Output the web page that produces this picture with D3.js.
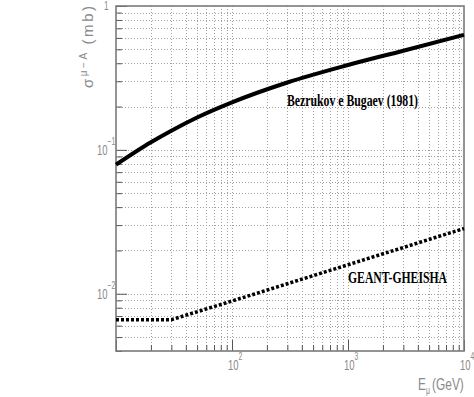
<!DOCTYPE html>
<html>
<head>
<meta charset="utf-8">
<script src="https://cdn.jsdelivr.net/npm/d3@7.9.0/dist/d3.min.js"></script>
<style>
  body { margin: 0; background: #fff; }
  svg { display: block; }
</style>
</head>
<body>
<svg id="chart" width="474" height="397"></svg>
<script>
// muon energy (GeV) and cross sections (mb)
const energyBez = [10, 20, 30, 50, 100, 300, 1000, 3000, 10000];
const sigmaBez = [0.079, 0.113, 0.136, 0.168, 0.214, 0.294, 0.389, 0.489, 0.63];
const energyGeant = [10, 30, 100, 1000, 10000];
const sigmaGeant = [0.0066, 0.0066, 0.0089, 0.0159, 0.0284];

// labelled decades
const xMajor = [100, 1000, 10000];
const xExp = ['2', '3', '4'];
const yMajor = [1, 0.1, 0.01];
const yBase = ['1', '10', '10'];
const yExp = ['', '\u22121', '\u22122'];

const svg = d3.select('#chart');
const plotL = 116, plotR = 464, plotT = 6, plotB = 351;

const x = d3.scaleLog().domain([10, 10000]).range([plotL, plotR]);
const y = d3.scaleLog().domain([0.004, 1]).range([plotB, plotT]);

const gray = '#8a8a8a';
const labelFont = '"Liberation Sans", Arial, sans-serif';

// --- dotted grid at every minor tick ---
const grid = svg.append('g')
  .attr('stroke', '#a0a0a0')
  .attr('stroke-width', 1)
  .attr('stroke-dasharray', '1,2');

grid.selectAll('.gx')
  .data(x.ticks().filter(d => d > 10 && d < 10000))
  .enter().append('line')
  .attr('x1', d => Math.round(x(d)) + 0.5).attr('x2', d => Math.round(x(d)) + 0.5)
  .attr('y1', plotT).attr('y2', plotB);

grid.selectAll('.gy')
  .data(y.ticks().filter(d => d > 0.004 && d < 1))
  .enter().append('line')
  .attr('y1', d => Math.round(y(d)) + 0.5).attr('y2', d => Math.round(y(d)) + 0.5)
  .attr('x1', plotL).attr('x2', plotR);

// --- axes with inward ticks ---
const isMajor = v => Math.abs(Math.log10(v) - Math.round(Math.log10(v))) < 1e-6;

const xAxis = svg.append('g')
  .attr('transform', `translate(0,${plotB})`)
  .call(d3.axisBottom(x).tickSizeOuter(0).tickFormat(''));
xAxis.selectAll('.tick line').attr('y2', d => isMajor(d) ? -11 : -6);

const yAxis = svg.append('g')
  .attr('transform', `translate(${plotL},0)`)
  .call(d3.axisLeft(y).tickSizeOuter(0).tickFormat(''));
yAxis.selectAll('.tick line').attr('x2', d => isMajor(d) ? 11 : 6);

svg.selectAll('.domain').remove();
svg.selectAll('.tick line').attr('stroke', '#555').attr('stroke-width', 1);

// frame
svg.append('rect')
  .attr('x', plotL).attr('y', plotT)
  .attr('width', plotR - plotL).attr('height', plotB - plotT)
  .attr('fill', 'none')
  .attr('stroke', '#7a7a7a')
  .attr('stroke-width', 1.6);

// --- curves ---
const line = d3.line().x(d => x(d[0])).y(d => y(d[1])).curve(d3.curveMonotoneX);

svg.append('path')
  .datum(d3.zip(energyBez, sigmaBez))
  .attr('d', line)
  .attr('fill', 'none')
  .attr('stroke', '#000')
  .attr('stroke-width', 4);

svg.append('path')
  .datum(d3.zip(energyGeant, sigmaGeant))
  .attr('d', d3.line().x(d => x(d[0])).y(d => y(d[1])))
  .attr('fill', 'none')
  .attr('stroke', '#000')
  .attr('stroke-width', 3.5)
  .attr('stroke-dasharray', '3,2');

// condensed "10^n" label; (px, py) = left end of base, on baseline
function powerLabel(px, py, base, exp, size) {
  const g = svg.append('g')
    .attr('transform', `translate(${px},${py}) scale(0.68,1)`)
    .attr('fill', gray)
    .attr('font-family', labelFont);
  const t = g.append('text').attr('font-size', size);
  t.append('tspan').text(base);
  if (exp) t.append('tspan').attr('dy', -10).attr('font-size', 10).text(exp);
}

xMajor.forEach((v, i) => powerLabel(x(v) - 4, 370, '10', xExp[i], 14));
powerLabel(104, 10, yBase[0], '', 12);
powerLabel(97, y(yMajor[1]) + 5, yBase[1], yExp[1], 14);
powerLabel(97, y(yMajor[2]) + 5, yBase[2], yExp[2], 14);

// --- axis titles ---
const yt = svg.append('text')
  .attr('transform', 'translate(93,88) rotate(-90)')
  .attr('fill', gray)
  .attr('font-family', labelFont)
  .attr('font-size', 15)
  .attr('textLength', 82)
  .attr('lengthAdjust', 'spacing');
yt.append('tspan').text('\u03c3');
yt.append('tspan').attr('dy', -6).attr('font-size', 10).text('\u03bc\u2212A');
yt.append('tspan').attr('dy', 6).attr('dx', 6).text('(mb)');

const xt = svg.append('g')
  .attr('transform', 'translate(418,390) scale(0.7,1)')
  .append('text')
  .attr('fill', gray)
  .attr('font-family', labelFont)
  .attr('font-size', 17);
xt.append('tspan').text('E');
xt.append('tspan').attr('dy', 4).attr('font-size', 10).text('\u03bc');
xt.append('tspan').attr('dy', -4).attr('dx', 3).text('(GeV)');

// --- curve labels ---
svg.append('text')
  .attr('x', 287).attr('y', 106)
  .attr('font-family', '"Liberation Serif", "Times New Roman", serif')
  .attr('font-weight', 'bold')
  .attr('font-size', 16)
  .attr('textLength', 131)
  .attr('lengthAdjust', 'spacingAndGlyphs')
  .text('Bezrukov e Bugaev (1981)');

svg.append('text')
  .attr('x', 348).attr('y', 283)
  .attr('font-family', '"Liberation Serif", "Times New Roman", serif')
  .attr('font-weight', 'bold')
  .attr('font-size', 16)
  .attr('textLength', 99)
  .attr('lengthAdjust', 'spacingAndGlyphs')
  .text('GEANT-GHEISHA');
</script>
</body>
</html>
